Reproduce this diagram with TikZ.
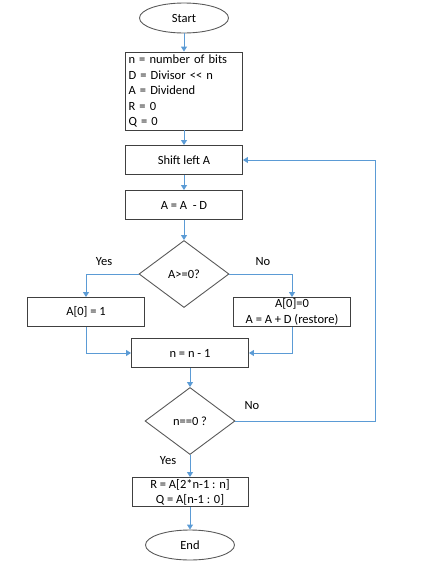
\documentclass[tikz,border=0pt]{standalone}
\usepackage{fontspec}
\setmainfont{Carlito}
\usetikzlibrary{shapes.geometric,arrows.meta}
\definecolor{lineblue}{HTML}{5B9BD5}
\definecolor{boxgray}{HTML}{404040}
\definecolor{shapegray}{HTML}{595959}
\begin{document}
\begin{tikzpicture}[x=1pt,y=-1pt,
 font=\fontsize{12.5}{15.5}\selectfont,
 box/.style={draw=boxgray, line width=0.9pt, rectangle, inner sep=0pt, minimum width=117pt, minimum height=29pt, align=center},
 dec/.style={draw=shapegray, line width=0.9pt, diamond, inner sep=0pt, minimum width=90pt, minimum height=67pt},
 term/.style={draw=shapegray, line width=0.9pt, ellipse, inner sep=0pt, minimum width=89pt, minimum height=30pt},
 arr/.style={draw=lineblue, line width=0.9pt, -{Triangle[width=6pt,length=5pt]}},
 lab/.style={inner sep=0pt}]
\useasboundingbox (0,0) rectangle (429,563);
\node[term] (start) at (184,18) {Start};
\node[box, minimum height=78pt, align=left, text width=111pt] (init) at (184,91)
  {n = number of bits\\D = Divisor <\kern0pt< n\\A = Dividend\\R = 0\\Q = 0};
\node[box] (shift) at (184,160) {Shift left A};
\node[box] (sub) at (184,205) {A = A\ \ - D};
\node[dec] (d1) at (184,274) {A>=0?};
\node[box] (yesbox) at (86,312) {A[0] = 1};
\node[box] (nobox) at (292,312) {A[0]=0\\A = A + D (restore)};
\node[box] (dec) at (190,353) {n = n - 1};
\node[dec] (d2) at (190,421) {n==0 ?};
\node[box, minimum width=116pt, font=\fontsize{12.5}{15}\selectfont] (res) at (190,492) {R = A[2*n-1 : n]\\Q = A[n-1 : 0]};
\node[term] (end) at (190,545) {End};
\coordinate (loop) at (375,421);
\node[lab] (yeslab1) at (104,262) {Yes};
\node[lab] (nolab1) at (263,262) {No};
\node[lab] (nolab2) at (252,406) {No};
\node[lab] (yeslab2) at (168,461) {Yes};
\draw[arr] (start) -- (init);
\draw[arr] (init) -- (shift);
\draw[arr] (shift) -- (sub);
\draw[arr] (sub) -- (d1);
\draw[arr] (d1.west) -| (yesbox.north);
\draw[arr] (d1.east) -| (nobox.north);
\draw[arr] (yesbox.south) |- (dec.west);
\draw[arr] (nobox.south) |- (dec.east);
\draw[arr] (dec) -- (d2);
\draw[arr] (d2.east) -- (loop) |- (shift.east);
\draw[arr] (d2) -- (res);
\draw[arr] (res) -- (end);
\end{tikzpicture}
\end{document}
